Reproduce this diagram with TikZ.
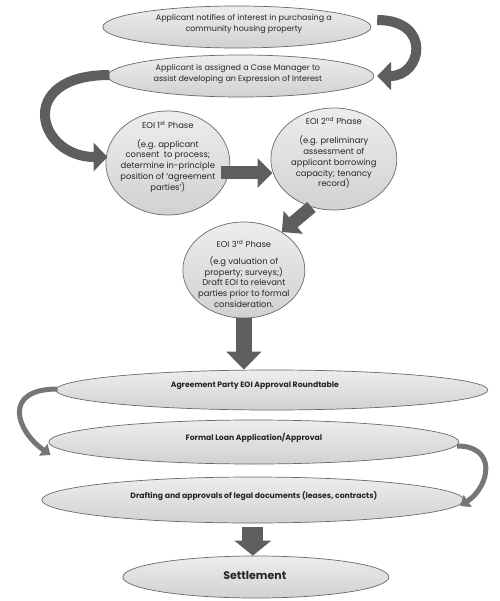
\documentclass[tikz,border=0pt]{standalone}
\usepackage{fontspec}
\setmainfont{Poppins}
\usetikzlibrary{arrows.meta,shapes.geometric,calc}
\definecolor{arrowgray}{HTML}{5E5E5E}
\definecolor{edgegray}{HTML}{6A6A6A}
\begin{document}
\begin{tikzpicture}[x=1pt,y=-1pt,
  ell/.style={ellipse, draw=edgegray, line width=0.7pt, top color=gray!14, bottom color=gray!36, inner sep=0pt},
  txt/.style={align=center, font=\fontsize{8}{10.8}\selectfont, text=black!85, inner sep=0pt},
  etxt/.style={align=center, font=\fontsize{8.4}{10.8}\selectfont, text=black!85, inner sep=0pt},
  btxt/.style={align=center, font=\fontsize{7.7}{9}\selectfont\bfseries, text=black!85, inner sep=0pt},
  curvearrow/.style={line width=10pt, draw=arrowgray, -{Triangle[length=14pt,width=28pt]}},
  thinarrow/.style={line width=5pt, draw=arrowgray!85, -{Triangle[length=9pt,width=14pt]}},
  hbigarrow/.style={line width=13pt, draw=arrowgray, -{Triangle[length=15pt,width=29pt]}},
  vbigarrow/.style={line width=16pt, draw=arrowgray, -{Triangle[length=18pt,width=34pt]}},
  wbigarrow/.style={line width=21pt, draw=arrowgray, -{Triangle[length=15pt,width=36pt]}}]
\path[fill=white] (0,0) rectangle (474,601);
% ellipses
\node[ell, minimum width=268pt, minimum height=42pt] (n1) at (221,27) {};
\node[txt] (t1) at (228,24) {Applicant notifies of interest in purchasing a\\community housing property};
\node[ell, minimum width=266pt, minimum height=42pt] (n2) at (225,76) {};
\node[txt] (t2) at (222,74) {Applicant is assigned a Case Manager to\\assist developing an Expression of Interest};
\node[ell, minimum width=124pt, minimum height=104pt] (n3) at (152,163) {};
\node[etxt] (t3) at (152,157) {EOI 1\textsuperscript{st} Phase\\[8pt](e.g. applicant\\consent\ \ to process;\\determine in-principle\\position of ‘agreement\\parties’)};
\node[ell, minimum width=126pt, minimum height=102pt] (n4) at (318,159) {};
\node[etxt] (t4) at (318,153) {EOI 2\textsuperscript{nd} Phase\\[8pt](e.g. preliminary\\assessment of\\applicant borrowing\\capacity; tenancy\\record)};
\node[ell, minimum width=122pt, minimum height=96pt] (n5) at (228,270) {};
\node[etxt] (t5) at (228,274) {EOI 3\textsuperscript{rd} Phase\\[6pt](e.g valuation of\\property; surveys;)\\Draft EOI to relevant\\parties prior to formal\\consideration.};
\node[ell, minimum width=432pt, minimum height=40pt] (n6) at (256,390) {};
\node[btxt] (t6) at (239,386) {Agreement Party EOI Approval Roundtable};
\node[ell, minimum width=410pt, minimum height=44pt] (n7) at (238,442) {};
\node[btxt] (t7) at (238,438) {Formal Loan Application/Approval};
\node[ell, minimum width=422pt, minimum height=46pt] (n8) at (237,500) {};
\node[btxt] (t8) at (238,496) {Drafting and approvals of legal documents (leases, contracts)};
\node[ell, minimum width=266pt, minimum height=42pt] (n9) at (240,577) {};
\node[txt, font=\fontsize{11}{13}\selectfont\bfseries] (t9) at (239,575) {Settlement};
% connectors
\draw[curvearrow] ($(n1.east)+(6,-7)$) .. controls +(55,0) and +(45,0) .. ($(n2.east)+(3,0)$);
\draw[curvearrow] ($(n2.west)+(2,-1)$) .. controls +(-95,0) and +(-70,0) .. ($(n3.west)+(2,-6)$);
\draw[hbigarrow] ($(n3.east)+(-9,10)$) -- ($(n4.west)+(2,14)$);
\draw[hbigarrow] (n4.245) -- (n5.45);
\draw[vbigarrow] (n5.south) -- (n5.south |- n6.north);
\draw[thinarrow] ($(n6.west)+(2,-1)$) .. controls +(-55,0) and +(-35,-25) .. ($(n7.west)+(2,13)$);
\draw[thinarrow] ($(n7.east)+(-2,4)$) .. controls +(40,0) and +(30,-20) .. ($(n8.east)+(-4,6)$);
\draw[wbigarrow] ($(n8.south)+(0,4)$) -- (n8.south |- n9.north);
\end{tikzpicture}
\end{document}
